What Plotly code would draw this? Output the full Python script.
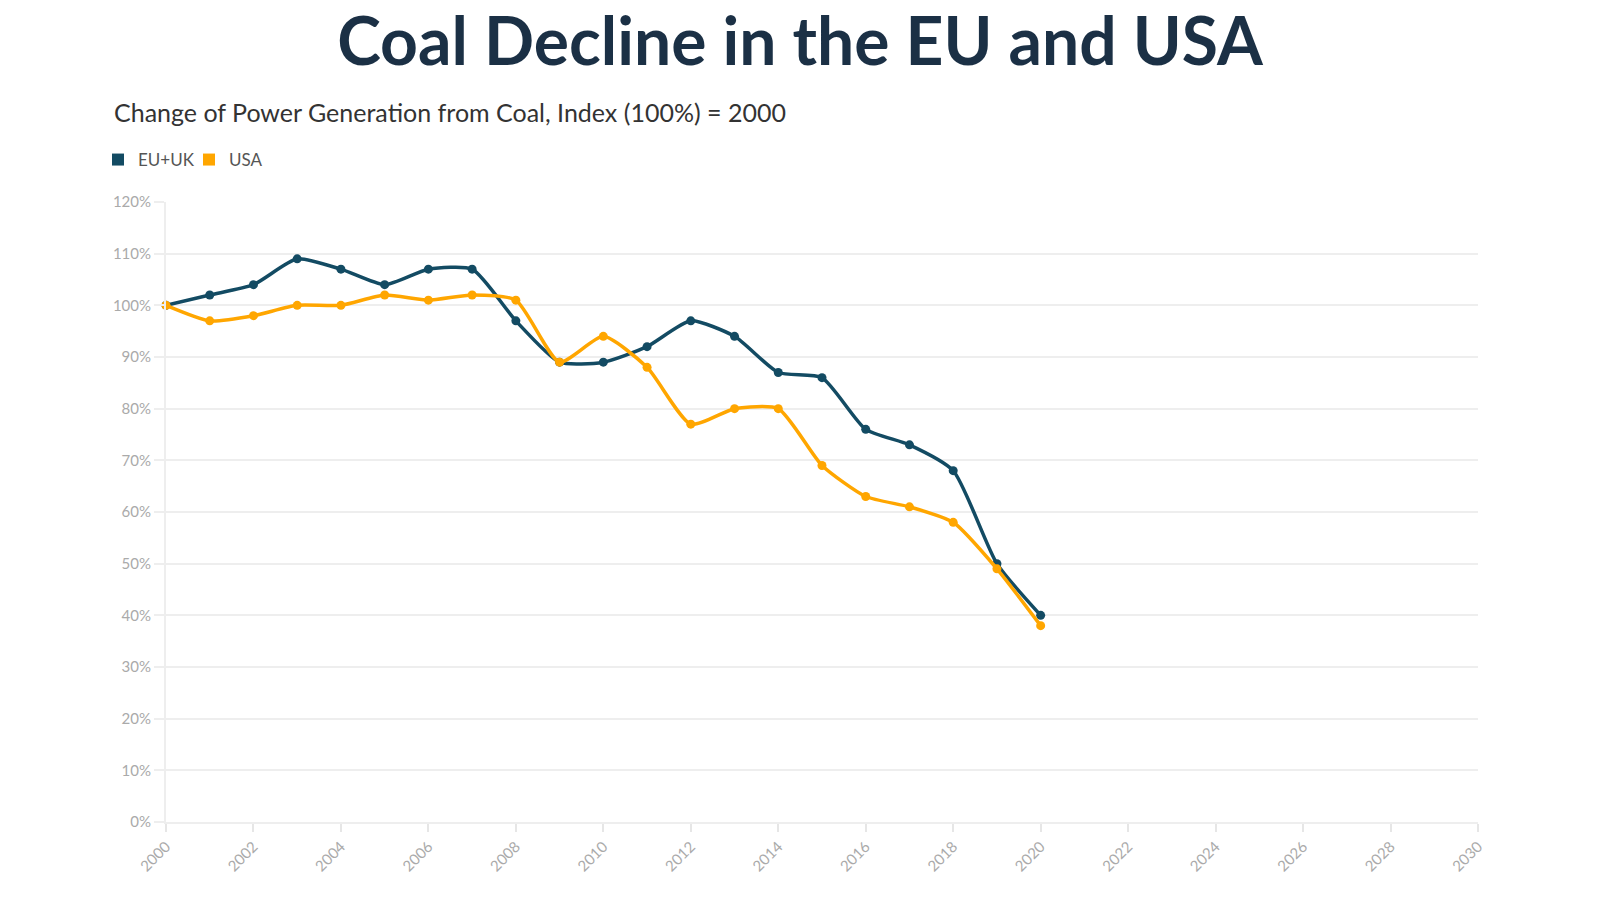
import plotly.graph_objects as go

years = list(range(2000, 2021))
eu_uk = [100, 102, 104, 109, 107, 104, 107, 107, 97, 89, 89, 92, 97, 94, 87, 86, 76, 73, 68, 50, 40]
usa = [100, 97, 98, 100, 100, 102, 101, 102, 101, 89, 94, 88, 77, 80, 80, 69, 63, 61, 58, 49, 38]
x_ticks = list(range(2000, 2031, 2))
y_ticks = list(range(0, 121, 10))
y_labels = [f"{v}%" for v in y_ticks]

NAVY = "#134b63"
ORANGE = "#ffa600"
FONT = "Lato"

L, R, T, B = 166, 122, 202, 78
PW, PH = 1600 - L - R, 900 - T - B

fig = go.Figure()
for name, vals, col in [("EU+UK", eu_uk, NAVY), ("USA", usa, ORANGE)]:
    fig.add_trace(go.Scatter(
        x=years, y=vals, name=name, mode="lines+markers",
        line=dict(color=col, width=3.5, shape="spline", smoothing=0.6),
        marker=dict(color=col, size=9),
        cliponaxis=False, showlegend=False,
    ))
for name, col in [("EU+UK", NAVY), ("USA", ORANGE)]:
    fig.add_trace(go.Scatter(
        x=[None], y=[None], name=name, mode="markers",
        marker=dict(color=col, size=14, symbol="square"),
        showlegend=True,
    ))

fig.update_layout(
    width=1600, height=900,
    paper_bgcolor="white", plot_bgcolor="white",
    margin=dict(l=L, r=R, t=T, b=B),
    font=dict(family=FONT, color="#333333"),
    title=dict(text="<b>Coal Decline in the EU and USA</b>", x=0.5, xanchor="center",
               y=1 - 42 / 900, yanchor="middle", yref="container",
               font=dict(family=FONT, size=66, color="#1b3045")),
    legend=dict(orientation="h", x=98/1600, xref="container", y=(900-160)/900, yref="container",
                xanchor="left", yanchor="middle",
                font=dict(family=FONT, size=17, color="#555555"),
                itemsizing="constant", itemwidth=30, tracegroupgap=0,
                entrywidth=46, entrywidthmode="pixels"),
    xaxis=dict(range=[2000, 2030], tickvals=x_ticks, tickangle=-45,
               showgrid=False, showline=True, linecolor="#eeeeee", linewidth=2,
               ticks="outside", ticklen=8, tickcolor="#e6e6e6", tickwidth=2,
               tickfont=dict(family=FONT, size=15, color="#aaaaaa"), zeroline=False),
    yaxis=dict(range=[0, 120], tickvals=y_ticks, ticktext=y_labels,
               showgrid=True, gridcolor="#eeeeee", gridwidth=2,
               showline=True, linecolor="#eeeeee", linewidth=2,
               ticks="outside", ticklen=10, tickcolor="#eeeeee", tickwidth=2,
               tickfont=dict(family=FONT, size=15, color="#aaaaaa"), zeroline=False),
    annotations=[dict(text="Change of Power Generation from Coal, Index (100%) = 2000",
                      x=(112 - L) / PW, xref="paper", y=(900 - 112 - B) / PH, yref="paper",
                      xanchor="left", yanchor="middle", showarrow=False,
                      font=dict(family=FONT, size=25, color="#333333"))],
)

fig.write_html("out.html")
